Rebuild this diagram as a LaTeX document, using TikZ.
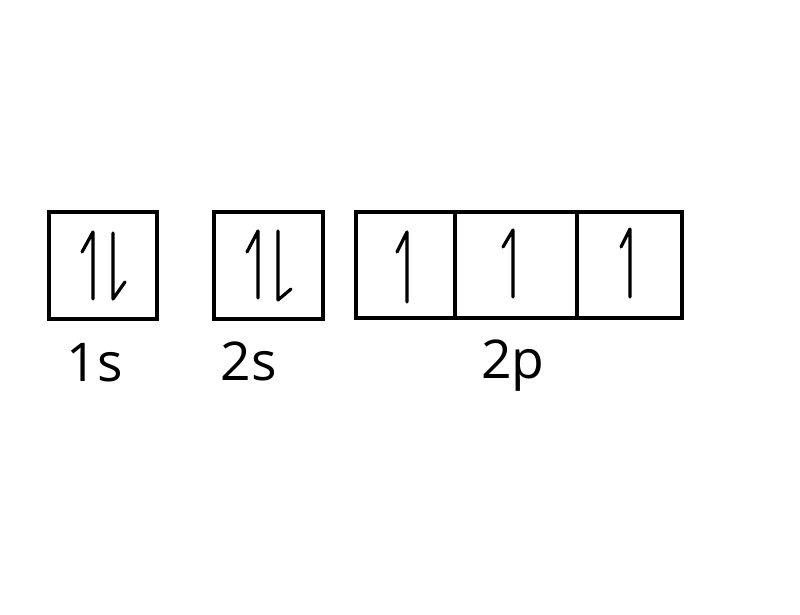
\documentclass[tikz,border=0pt]{standalone}
\usepackage{fontspec}
\setmainfont{Open Sans}
\usepackage{tikz}

\tikzset{
  orbital/.style={draw,line width=0.085cm,minimum height=2.67cm,inner sep=0pt},
  spin/.style={line width=0.08cm,line cap=round,line join=round},
  sublabel/.style={anchor=base,font=\fontsize{38}{38}\selectfont}
}

\begin{document}
\begin{tikzpicture}[x=0.025cm,y=-0.025cm]
        \useasboundingbox (0,0) rectangle (800,615);

        \node[orbital,minimum width=2.7cm] (s1) at (103,265.5){};
        \node[orbital,minimum width=2.72cm] (s2) at (268.5,265.5){};
        \node[orbital,minimum width=2.475cm,minimum height=2.65cm] (px) at (405.5,265){};
        \node[orbital,minimum width=3.05cm,minimum height=2.65cm] (py) at (516,265){};
        \node[orbital,minimum width=2.625cm,minimum height=2.65cm] (pz) at (629.5,265){};

        % spins
        \draw[spin] (93,299) -- (93,232) -- (82,252);
        \draw[spin] (113,233) -- (113,299) -- (125,282);
        \draw[spin] (258,298) -- (258,231) -- (247,252);
        \draw[spin] (278,231) -- (278,300) -- (291,289);
        \draw[spin] (407,302) -- (407,232) -- (397,252);
        \draw[spin] (513,297) -- (513,230) -- (503,247);
        \draw[spin] (630,297) -- (630,229) -- (621,247);

        \node[sublabel] (l1s) at (95,382) {1s};
        \node[sublabel] (l2s) at (249,380) {2s};
        \node[sublabel] (l2p) at (513,378) {2p};
    \end{tikzpicture}
\end{document}
